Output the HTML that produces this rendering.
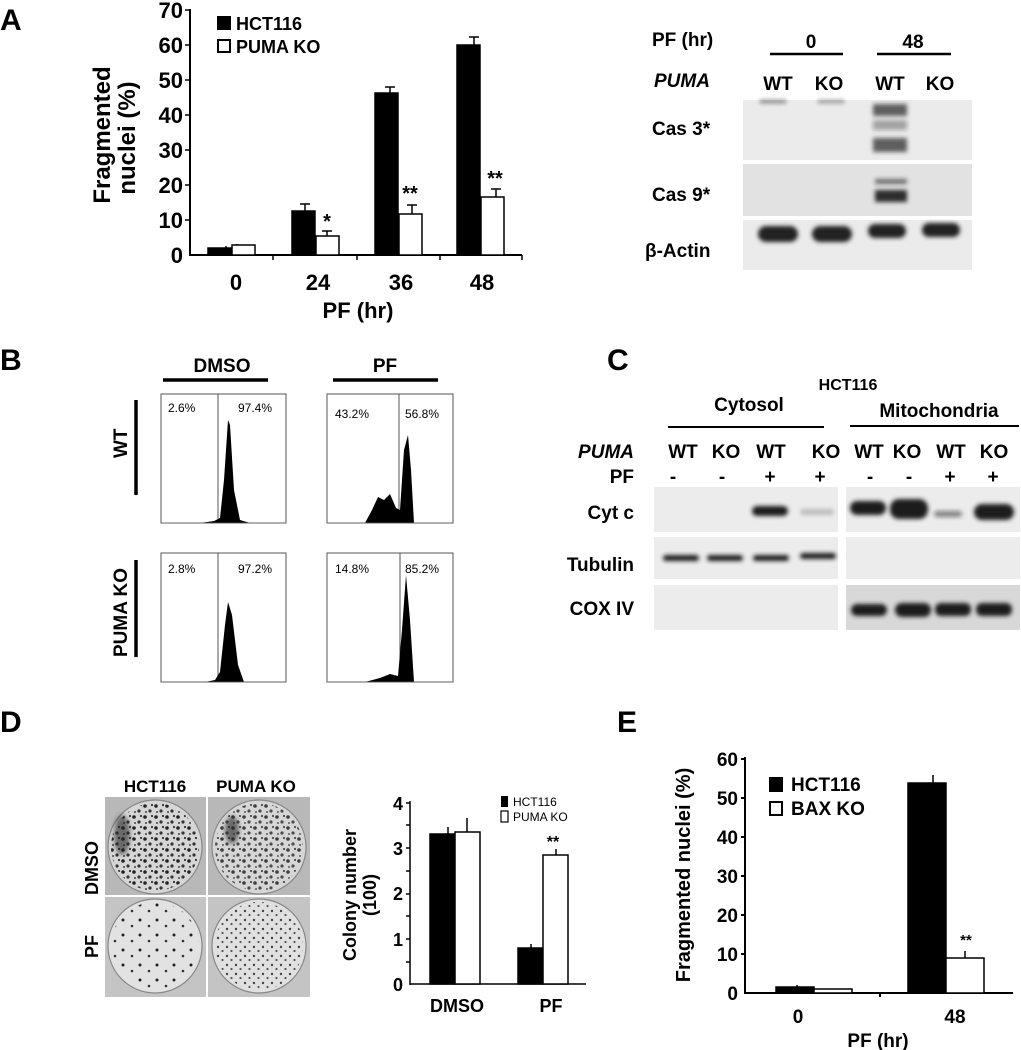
<!DOCTYPE html>
<html><head><meta charset="utf-8"><style>
html,body{margin:0;padding:0;background:#fff;}
svg{display:block;font-family:"Liberation Sans",Arial,sans-serif;font-weight:bold;}
</style></head><body>
<svg width="1021" height="1050" viewBox="0 0 1021 1050" xmlns="http://www.w3.org/2000/svg">
<defs>
<filter id="b" x="-20%" y="-50%" width="140%" height="200%"><feGaussianBlur stdDeviation="2.2"/></filter>
<filter id="b2" x="-20%" y="-50%" width="140%" height="200%"><feGaussianBlur stdDeviation="3.5"/></filter>
<pattern id="dense" width="11" height="11" patternUnits="userSpaceOnUse">
<circle cx="2" cy="3" r="1.8" fill="#222"/><circle cx="7" cy="8" r="1.6" fill="#333"/><circle cx="9" cy="2" r="1.1" fill="#333"/><circle cx="3" cy="9" r="1" fill="#444"/>
</pattern>
<pattern id="sparse" width="17" height="15" patternUnits="userSpaceOnUse">
<circle cx="4" cy="5" r="1.5" fill="#222"/><circle cx="13" cy="11" r="1.3" fill="#333"/>
</pattern>
<pattern id="mid" width="9" height="9" patternUnits="userSpaceOnUse">
<circle cx="2" cy="2" r="1.2" fill="#333"/><circle cx="6.5" cy="6" r="1.1" fill="#444"/>
</pattern>
</defs>
<!-- Panel A chart -->
<text x="0" y="30" font-size="30">A</text>
<g stroke="#000" stroke-width="2" fill="none">
<line x1="190" y1="9" x2="190" y2="255"/>
<line x1="189" y1="255" x2="522" y2="255"/>
</g>
<g stroke="#000" stroke-width="1.5">
<line x1="185" y1="10" x2="190" y2="10"/><line x1="185" y1="45" x2="190" y2="45"/><line x1="185" y1="80" x2="190" y2="80"/><line x1="185" y1="115" x2="190" y2="115"/><line x1="185" y1="150" x2="190" y2="150"/><line x1="185" y1="185" x2="190" y2="185"/><line x1="185" y1="220" x2="190" y2="220"/>
<line x1="273" y1="255" x2="273" y2="260"/><line x1="357" y1="255" x2="357" y2="260"/><line x1="440" y1="255" x2="440" y2="260"/><line x1="522" y1="255" x2="522" y2="260"/>
</g>
<g font-size="22" text-anchor="end">
<text x="183" y="18">70</text><text x="183" y="53">60</text><text x="183" y="88">50</text><text x="183" y="123">40</text><text x="183" y="158">30</text><text x="183" y="193">20</text><text x="183" y="228">10</text><text x="183" y="263">0</text>
</g>
<text transform="translate(110,135) rotate(-90)" font-size="24" text-anchor="middle">Fragmented</text>
<text transform="translate(135,138) rotate(-90)" font-size="24" text-anchor="middle">nuclei (%)</text>
<g font-size="22" text-anchor="middle">
<text x="236" y="290">0</text><text x="318" y="290">24</text><text x="401" y="290">36</text><text x="482" y="290">48</text>
<text x="358" y="318">PF (hr)</text>
</g>
<rect x="217" y="16" width="14" height="14" fill="#000"/>
<rect x="218" y="40" width="12" height="12" fill="#fff" stroke="#000" stroke-width="2"/>
<text x="236" y="30" font-size="18">HCT116</text>
<text x="236" y="53" font-size="18">PUMA KO</text>
<g stroke="#000" stroke-width="1.5">
<rect x="208" y="248" width="23" height="7" fill="#000"/>
<rect x="232" y="245" width="23" height="10" fill="#fff"/>
<rect x="292" y="211" width="23" height="44" fill="#000"/>
<rect x="316" y="236" width="23" height="19" fill="#fff"/>
<rect x="375" y="93" width="23" height="162" fill="#000"/>
<rect x="399" y="214" width="23" height="41" fill="#fff"/>
<rect x="457" y="45" width="23" height="210" fill="#000"/>
<rect x="481" y="197" width="23" height="58" fill="#fff"/>
<path d="M305 211V204M300 204H310M327 236V231M322 231H332M390 93V87M385 87H395M412 214V205M407 205H417M474 45V37M469 37H479M496 197V189M491 189H501M226 248V246M237 245V244" fill="none"/>
</g>
<g font-size="20" text-anchor="middle"><text x="327" y="228">*</text><text x="410" y="200">**</text><text x="495" y="185">**</text></g>

<!-- Panel A blot -->
<text x="652" y="46" font-size="19">PF (hr)</text>
<text x="654" y="87" font-size="19" font-style="italic">PUMA</text>
<text x="811" y="48" font-size="19" text-anchor="middle">0</text>
<text x="913" y="48" font-size="19" text-anchor="middle">48</text>
<line x1="770" y1="54" x2="843" y2="54" stroke="#000" stroke-width="2.5"/>
<line x1="877" y1="54" x2="951" y2="54" stroke="#000" stroke-width="2.5"/>
<g font-size="19" text-anchor="middle"><text x="778" y="90">WT</text><text x="829" y="90">KO</text><text x="890" y="90">WT</text><text x="940" y="90">KO</text></g>
<g font-size="19"><text x="652" y="135">Cas 3*</text><text x="652" y="201">Cas 9*</text><text x="645" y="257">β-Actin</text></g>
<rect x="743" y="100" width="229" height="60" fill="#ebebeb"/>
<rect x="743" y="164" width="229" height="52" fill="#e2e2e2"/>
<rect x="743" y="220" width="229" height="50" fill="#ebebeb"/>
<g filter="url(#b)" fill="#222">
<rect x="873" y="104" width="34" height="12" opacity="0.7"/>
<rect x="873" y="138" width="34" height="14" opacity="0.7"/>
<rect x="873" y="120" width="34" height="10" opacity="0.35"/>
<rect x="875" y="179" width="32" height="5" opacity="0.6"/>
<rect x="875" y="190" width="32" height="12" opacity="0.95"/>
<rect x="760" y="100" width="26" height="3" opacity="0.6"/>
<rect x="818" y="100" width="26" height="3" opacity="0.5"/>
<rect x="758" y="226" width="40" height="16" rx="8"/>
<rect x="812" y="226" width="40" height="16" rx="8"/>
<rect x="868" y="224" width="38" height="14" rx="7"/>
<rect x="922" y="223" width="38" height="14" rx="7"/>
</g>

<!-- Panel B -->
<text x="0" y="370" font-size="30">B</text>
<text x="222" y="372" font-size="19" text-anchor="middle">DMSO</text>
<text x="385" y="372" font-size="19" text-anchor="middle">PF</text>
<line x1="163" y1="380" x2="268" y2="380" stroke="#000" stroke-width="3.5"/>
<line x1="333" y1="380" x2="438" y2="380" stroke="#000" stroke-width="3.5"/>
<line x1="136" y1="400" x2="136" y2="495" stroke="#000" stroke-width="3.5"/>
<line x1="136" y1="560" x2="136" y2="657" stroke="#000" stroke-width="3.5"/>
<text transform="translate(127,458) rotate(-90)" font-size="19">WT</text>
<text transform="translate(127,657) rotate(-90)" font-size="19">PUMA KO</text>
<g fill="none" stroke="#555" stroke-width="1">
<rect x="161" y="394" width="125" height="129"/><rect x="327" y="394" width="126" height="129"/>
<rect x="161" y="553" width="125" height="129"/><rect x="327" y="553" width="126" height="129"/>
<line x1="218" y1="394" x2="218" y2="523"/><line x1="399" y1="394" x2="399" y2="523"/>
<line x1="218" y1="553" x2="218" y2="682"/><line x1="400" y1="553" x2="400" y2="682"/>
</g>
<g font-family="'Liberation Sans',sans-serif" font-weight="normal" font-size="12">
<text x="168" y="412">2.6%</text><text x="238" y="412">97.4%</text>
<text x="335" y="418">43.2%</text><text x="405" y="418">56.8%</text>
<text x="168" y="573">2.8%</text><text x="238" y="573">97.2%</text>
<text x="335" y="573">14.8%</text><text x="405" y="573">85.2%</text>
</g>
<g fill="#000">
<path d="M200 523 L214 521 L220 518 L224 480 L228 420 L230 425 L234 490 L240 520 L250 523Z"/>
<path d="M365 523 L372 510 L378 497 L384 500 L390 494 L396 508 L400 510 L404 450 L408 435 L411 470 L414 523Z"/>
<path d="M205 682 L215 680 L220 672 L225 625 L228 602 L232 615 L238 665 L244 682Z"/>
<path d="M365 682 L380 678 L390 674 L398 676 L402 630 L406 575 L410 620 L414 682Z"/>
</g>
<g stroke="#666" stroke-width="0.7">
<line x1="161" y1="523" x2="286" y2="523"/><line x1="327" y1="523" x2="453" y2="523"/>
<line x1="161" y1="682" x2="286" y2="682"/><line x1="327" y1="682" x2="453" y2="682"/>
</g>

<!-- Panel C -->
<text x="607" y="370" font-size="30">C</text>
<text x="848" y="390" font-size="16" text-anchor="middle">HCT116</text>
<text x="749" y="411" font-size="19" text-anchor="middle">Cytosol</text>
<text x="939" y="417" font-size="19" text-anchor="middle">Mitochondria</text>
<line x1="668" y1="427" x2="824" y2="427" stroke="#000" stroke-width="2"/>
<line x1="850" y1="426" x2="1019" y2="426" stroke="#000" stroke-width="2"/>
<text x="634" y="458" font-size="19" font-style="italic" text-anchor="end">PUMA</text>
<text x="634" y="483" font-size="19" text-anchor="end">PF</text>
<g font-size="19" text-anchor="middle">
<text x="683" y="458">WT</text><text x="726" y="458">KO</text><text x="771" y="458">WT</text><text x="826" y="458">KO</text>
<text x="869" y="458">WT</text><text x="907" y="458">KO</text><text x="951" y="458">WT</text><text x="994" y="458">KO</text>
<text x="673" y="483">-</text><text x="722" y="483">-</text><text x="770" y="483">+</text><text x="820" y="483">+</text>
<text x="870" y="483">-</text><text x="909" y="483">-</text><text x="950" y="483">+</text><text x="993" y="483">+</text>
</g>
<g font-size="19" text-anchor="end"><text x="634" y="519">Cyt c</text><text x="634" y="571">Tubulin</text><text x="634" y="615">COX IV</text></g>
<g fill="#ececec">
<rect x="654" y="487" width="184" height="45"/><rect x="654" y="537" width="184" height="42"/><rect x="654" y="585" width="184" height="45"/>
<rect x="846" y="487" width="174" height="45"/><rect x="846" y="537" width="174" height="42"/>
</g>
<rect x="846" y="585" width="174" height="45" fill="#d8d8d8"/>
<g filter="url(#b)" fill="#1a1a1a">
<rect x="752" y="506" width="36" height="10" rx="5"/>
<rect x="800" y="509" width="34" height="6" rx="3" opacity="0.2"/>
<rect x="850" y="501" width="36" height="14" rx="7"/>
<rect x="890" y="499" width="38" height="20" rx="9"/>
<rect x="934" y="511" width="28" height="6" rx="3" opacity="0.5"/>
<rect x="974" y="504" width="40" height="16" rx="8"/>
<rect x="663" y="555" width="36" height="6" rx="3"/>
<rect x="707" y="555" width="36" height="6" rx="3"/>
<rect x="753" y="555" width="36" height="6" rx="3"/>
<rect x="800" y="553" width="36" height="6" rx="3"/>
<rect x="851" y="604" width="36" height="12" rx="6"/>
<rect x="895" y="603" width="36" height="14" rx="7"/>
<rect x="935" y="603" width="36" height="13" rx="6"/>
<rect x="976" y="603" width="36" height="13" rx="6"/>
</g>

<!-- Panel D -->
<text x="0" y="732" font-size="30">D</text>
<g font-size="17" text-anchor="middle"><text x="155" y="792">HCT116</text><text x="256" y="792">PUMA KO</text></g>
<text transform="translate(98,895) rotate(-90)" font-size="18">DMSO</text>
<text transform="translate(98,958) rotate(-90)" font-size="18">PF</text>
<rect x="105" y="797" width="205" height="200" fill="#fff"/>
<rect x="105" y="797" width="101" height="98" fill="#b8b8b8"/><rect x="208" y="797" width="102" height="98" fill="#b8b8b8"/>
<rect x="105" y="897" width="101" height="100" fill="#c4c4c4"/><rect x="208" y="897" width="102" height="100" fill="#c4c4c4"/>
<g stroke="#888" stroke-width="1.2">
<ellipse cx="155" cy="847" rx="47" ry="47" fill="#d6d6d6"/><ellipse cx="259" cy="847" rx="47" ry="47" fill="#d6d6d6"/>
<ellipse cx="155" cy="946" rx="47" ry="47" fill="#e2e2e2"/><ellipse cx="259" cy="946" rx="47" ry="47" fill="#e0e0e0"/>
</g>
<ellipse cx="155" cy="847" rx="44" ry="44" fill="url(#dense)"/>
<ellipse cx="259" cy="847" rx="44" ry="44" fill="url(#dense)" opacity="0.85"/>
<ellipse cx="155" cy="946" rx="44" ry="44" fill="url(#sparse)"/>
<ellipse cx="259" cy="946" rx="44" ry="44" fill="url(#mid)" opacity="0.9"/>
<g fill="#222" opacity="0.6" filter="url(#b)">
<ellipse cx="122" cy="835" rx="8" ry="20"/><ellipse cx="232" cy="830" rx="7" ry="14"/>
</g>
<g stroke="#000" stroke-width="1.5" fill="none">
<line x1="410" y1="801" x2="410" y2="985"/><line x1="410" y1="984" x2="586" y2="984"/>
<path d="M406 803H410M406 825H410M406 848H410M406 871H410M406 894H410M406 916H410M406 939H410M406 962H410"/>
</g>
<g font-size="18" text-anchor="end"><text x="403" y="810">4</text><text x="403" y="855">3</text><text x="403" y="900">2</text><text x="403" y="946">1</text><text x="403" y="991">0</text></g>
<text transform="translate(356,895) rotate(-90)" font-size="18" text-anchor="middle">Colony number</text>
<text transform="translate(376,895) rotate(-90)" font-size="18" text-anchor="middle">(100)</text>
<g stroke="#000" stroke-width="1.5">
<rect x="430" y="834" width="25" height="150" fill="#000"/>
<rect x="455" y="832" width="25" height="152" fill="#fff"/>
<rect x="518" y="948" width="25" height="36" fill="#000"/>
<rect x="543" y="855" width="25" height="129" fill="#fff"/>
<path d="M448 834V827M467 832V818M531 948V944M556 855V849" fill="none"/>
</g>
<text x="553" y="847" font-size="16" text-anchor="middle">**</text>
<g font-size="18" text-anchor="middle"><text x="457" y="1012">DMSO</text><text x="551" y="1012">PF</text></g>
<rect x="501" y="796" width="7" height="11" fill="#000"/>
<rect x="501" y="811" width="7" height="11" fill="#fff" stroke="#000" stroke-width="1.2"/>
<g font-size="12" font-weight="normal"><text x="513" y="806">HCT116</text><text x="513" y="821">PUMA KO</text></g>

<!-- Panel E -->
<text x="617" y="732" font-size="30">E</text>
<g stroke="#000" stroke-width="2" fill="none">
<line x1="745" y1="757" x2="745" y2="993"/><line x1="744" y1="993" x2="1013" y2="993"/>
<path d="M741 759H745M741 798H745M741 837H745M741 876H745M741 915H745M741 954H745M880 993V997"/>
</g>
<g font-size="19" text-anchor="end"><text x="738" y="766">60</text><text x="738" y="805">50</text><text x="738" y="844">40</text><text x="738" y="883">30</text><text x="738" y="922">20</text><text x="738" y="961">10</text><text x="738" y="1000">0</text></g>
<text transform="translate(690,875) rotate(-90)" font-size="20" text-anchor="middle">Fragmented nuclei (%)</text>
<rect x="769" y="777" width="14" height="15" fill="#000"/>
<rect x="770" y="802" width="12" height="13" fill="#fff" stroke="#000" stroke-width="2"/>
<g font-size="19"><text x="791" y="791">HCT116</text><text x="791" y="815">BAX KO</text></g>
<g stroke="#000" stroke-width="1.5">
<rect x="776" y="987" width="38" height="6" fill="#000"/>
<rect x="814" y="989" width="38" height="4" fill="#fff"/>
<rect x="908" y="783" width="38" height="210" fill="#000"/>
<rect x="946" y="958" width="38" height="35" fill="#fff"/>
<path d="M933 783V775M965 958V951M797 987V985" fill="none"/>
</g>
<text x="966" y="945" font-size="15" text-anchor="middle">**</text>
<g font-size="19" text-anchor="middle"><text x="798" y="1023">0</text><text x="955" y="1023">48</text><text x="878" y="1047">PF (hr)</text></g>
</svg>
</body></html>
